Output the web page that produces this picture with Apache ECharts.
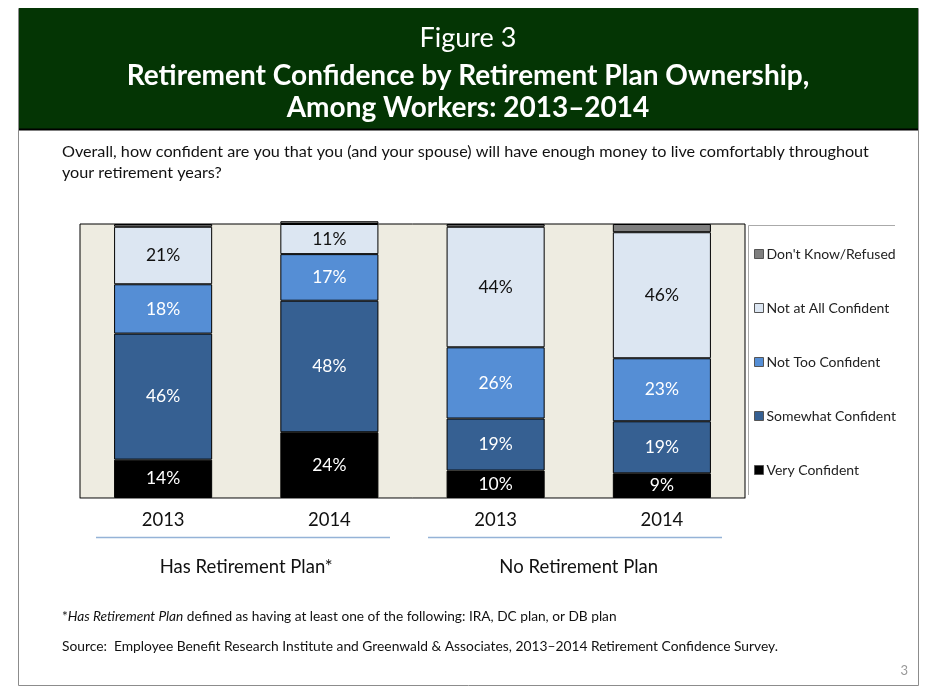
<!DOCTYPE html>
<html>
<head>
<meta charset="utf-8">
<script src="https://cdn.jsdelivr.net/npm/echarts@6/dist/echarts.min.js"></script>
<style>
body{margin:0;background:#fff;}
#chart{width:945px;height:695px;}
</style>
</head>
<body>
<div id="chart"></div>
<script>
var years = ['2013', '2014', '2013', '2014'];
var groups = ['Has Retirement Plan*', 'No Retirement Plan'];
var veryConfident = [14, 24, 10, 9];
var somewhatConfident = [46, 48, 19, 19];
var notTooConfident = [18, 17, 26, 23];
var notAtAllConfident = [21, 11, 44, 46];
var dontKnow = [1, 1, 1, 3];

var font = 'Lato';

function seg(name, data, color, labelColor) {
	return {
		name: name,
		type: 'bar',
		stack: 'all',
		barWidth: '59%',
		clip: false,
		data: data,
		itemStyle: { color: color, borderColor: '#000', borderWidth: 1 },
		label: {
			show: labelColor != null,
			position: 'inside',
			formatter: '{c}%',
			color: labelColor,
			fontFamily: font,
			fontSize: 17.5
		}
	};
}

var myChart = echarts.init(document.getElementById('chart'));
var option = {
	backgroundColor: '#fff',
	animation: false,
	textStyle: { fontFamily: font },
	grid: {
		left: 80, top: 224, width: 665, height: 274,
		show: true, backgroundColor: '#EEECE1', borderColor: '#000', borderWidth: 1
	},
	legend: {
		orient: 'vertical',
		left: 749, top: 242,
		icon: 'rect',
		itemWidth: 9, itemHeight: 9, itemGap: 40,
		data: ["Don't Know/Refused", 'Not at All Confident', 'Not Too Confident', 'Somewhat Confident', 'Very Confident'],
		itemStyle: { borderColor: '#555', borderWidth: 1 },
		textStyle: { fontFamily: font, fontSize: 14, color: '#222', padding: [0, 0, 0, -2] }
	},
	xAxis: [{
		type: 'category',
		data: years,
		axisTick: { show: false },
		axisLine: { lineStyle: { color: '#888' } },
		axisLabel: { fontFamily: font, fontSize: 18.5, color: '#111', margin: 13 }
	}, {
		type: 'category',
		data: groups,
		position: 'bottom',
		offset: 52,
		axisTick: { show: false },
		axisLine: { show: false },
		axisLabel: { fontFamily: font, fontSize: 18.5, color: '#111' }
	}],
	yAxis: { type: 'value', min: 0, max: 100, show: false },
	series: [
		seg('Very Confident', veryConfident, '#000000', '#fff'),
		seg('Somewhat Confident', somewhatConfident, '#366092', '#fff'),
		seg('Not Too Confident', notTooConfident, '#558ED5', '#fff'),
		seg('Not at All Confident', notAtAllConfident, '#DCE6F2', '#111'),
		seg("Don't Know/Refused", dontKnow, '#7F7F7F', null)
	],
	graphic: [
		{ type: 'rect', shape: { x: 18.5, y: 8.5, width: 900, height: 677 }, style: { fill: 'none', stroke: '#8c8c8c', lineWidth: 1 }, z: -1 },
		{ type: 'rect', shape: { x: 19, y: 8, width: 899, height: 121 }, style: { fill: '#043504' } },
		{ type: 'line', shape: { x1: 19, y1: 129.5, x2: 918, y2: 129.5 }, style: { stroke: '#000', lineWidth: 2 } },
		{ type: 'text', x: 468, y: 38, style: { text: 'Figure 3', fill: '#fff', font: '27px Lato', align: 'center', verticalAlign: 'middle' } },
		{ type: 'text', x: 468, y: 76, style: { text: 'Retirement Confidence by Retirement Plan Ownership,', fill: '#fff', font: 'bold 28px Lato', align: 'center', verticalAlign: 'middle' } },
		{ type: 'text', x: 468, y: 108, style: { text: 'Among Workers: 2013\u20132014', fill: '#fff', font: 'bold 28px Lato', align: 'center', verticalAlign: 'middle' } },
		{ type: 'text', x: 62, y: 152, style: { text: 'Overall, how confident are you that you (and your spouse) will have enough money to live comfortably throughout', fill: '#111', font: '16.2px Lato', verticalAlign: 'middle' } },
		{ type: 'text', x: 62, y: 173, style: { text: 'your retirement years?', fill: '#111', font: '16.2px Lato', verticalAlign: 'middle' } },
		{ type: 'polyline', shape: { points: [[748.5, 495], [748.5, 225.5], [895, 225.5]] }, style: { fill: 'none', stroke: '#aaa', lineWidth: 1 } },
		{ type: 'line', shape: { x1: 96, y1: 537.5, x2: 390, y2: 537.5 }, style: { stroke: '#95B3D7', lineWidth: 1.5 } },
		{ type: 'line', shape: { x1: 428, y1: 537.5, x2: 722, y2: 537.5 }, style: { stroke: '#95B3D7', lineWidth: 1.5 } },
		{ type: 'text', x: 62, y: 617, style: {
			text: '*{i|Has Retirement Plan} defined as having at least one of the following: IRA, DC plan, or DB plan',
			fill: '#111', font: '13.7px Lato', verticalAlign: 'middle',
			rich: { i: { fontStyle: 'italic', fontFamily: font, fontSize: 13.7, fill: '#111' } }
		} },
		{ type: 'text', x: 62, y: 647, style: { text: 'Source:  Employee Benefit Research Institute and Greenwald & Associates, 2013\u20132014 Retirement Confidence Survey.', fill: '#111', font: '13.8px Lato', verticalAlign: 'middle' } },
		{ type: 'text', x: 908, y: 671, style: { text: '3', fill: '#999', font: '13px Lato', align: 'right', verticalAlign: 'middle' } }
	]
};
myChart.setOption(option);
</script>
</body>
</html>
